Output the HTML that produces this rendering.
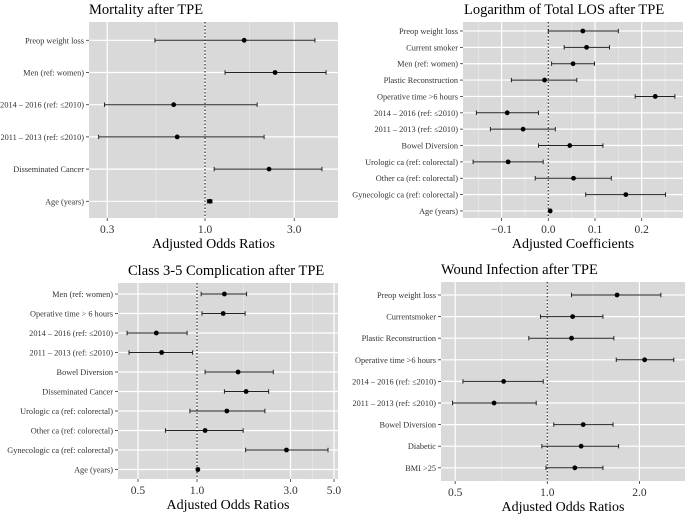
<!DOCTYPE html>
<html><head><meta charset="utf-8"><style>
html,body{margin:0;padding:0;background:#fff;}
svg{display:block;}
svg text{font-family:"Liberation Serif","DejaVu Serif",serif;}
</style></head><body>
<svg id="fig" width="685" height="515" viewBox="0 0 685 515" xmlns="http://www.w3.org/2000/svg" font-family="Liberation Serif, serif"></svg>
<script>
// Panel 1: Mortality
const mortLabels = ["Preop weight loss","Men (ref: women)","2014 \u2013 2016 (ref: \u22642010)","2011 \u2013 2013 (ref: \u22642010)","Disseminated Cancer","Age (years)"];
const mortEst = [1.62,2.37,0.68,0.71,2.2,1.06];
const mortLo = [0.54,1.28,0.29,0.27,1.12,1.03];
const mortHi = [3.87,4.44,1.90,2.07,4.22,1.09];
const mortTicks = [0.3,1.0,3.0];
const mortTickLabels = ["0.3","1.0","3.0"];
const mortMinor = [0.548,1.73];
// Panel 2: LOS
const losLabels = ["Preop weight loss","Current smoker","Men (ref: women)","Plastic Reconstruction","Operative time >6 hours","2014 \u2013 2016 (ref: \u22642010)","2011 \u2013 2013 (ref: \u22642010)","Bowel Diversion","Urologic ca (ref: colorectal)","Other ca (ref: colorectal)","Gynecologic ca (ref: colorectal)","Age (years)"];
const losEst = [0.074,0.082,0.053,-0.008,0.229,-0.088,-0.054,0.046,-0.086,0.054,0.166,0.004];
const losLo = [0.0,0.034,0.007,-0.079,0.186,-0.154,-0.124,-0.021,-0.161,-0.028,0.080,0.002];
const losHi = [0.15,0.131,0.099,0.061,0.271,-0.021,0.015,0.117,-0.011,0.135,0.251,0.006];
const losTicks = [-0.1,0.0,0.1,0.2];
const losTickLabels = ["\u22120.1","0.0","0.1","0.2"];
const losMinor = [-0.15,-0.05,0.05,0.15,0.25];
// Panel 3: Class 3-5
const compLabels = ["Men (ref: women)","Operative time > 6 hours","2014 \u2013 2016 (ref: \u22642010)","2011 \u2013 2013 (ref: \u22642010)","Bowel Diversion","Disseminated Cancer","Urologic ca (ref: colorectal)","Other ca (ref: colorectal)","Gynecologic ca (ref: colorectal)","Age (years)"];
const compEst = [1.38,1.36,0.62,0.66,1.62,1.78,1.42,1.10,2.86,1.01];
const compLo = [1.05,1.06,0.44,0.45,1.10,1.38,0.92,0.69,1.77,1.0];
const compHi = [1.79,1.76,0.89,0.95,2.45,2.32,2.22,1.72,4.66,1.02];
const compTicks = [0.5,1.0,3.0,5.0];
const compTickLabels = ["0.5","1.0","3.0","5.0"];
const compMinor = [0.707,1.73,3.87];
// Panel 4: Wound
const woundLabels = ["Preop weight loss","Currentsmoker","Plastic Reconstruction","Operative time >6 hours","2014 \u2013 2016 (ref: \u22642010)","2011 \u2013 2013 (ref: \u22642010)","Bowel Diversion","Diabetic","BMI >25"];
const woundEst = [1.69,1.21,1.20,2.08,0.72,0.67,1.31,1.29,1.23];
const woundLo = [1.20,0.95,0.87,1.68,0.53,0.49,1.05,0.96,0.99];
const woundHi = [2.35,1.52,1.65,2.59,0.97,0.92,1.64,1.71,1.52];
const woundTicks = [0.5,1.0,2.0];
const woundTickLabels = ["0.5","1.0","2.0"];
const woundMinor = [0.707,1.41];

const NS="http://www.w3.org/2000/svg";
const svg=document.getElementById('fig');
const FF='"Liberation Serif", "DejaVu Serif", serif';
function mk(tag,attrs,parent){const e=document.createElementNS(NS,tag);for(const k in attrs)e.setAttribute(k,attrs[k]);if(tag==='text')e.style.fontFamily=FF;(parent||svg).appendChild(e);return e;}

function panel(o){
  const g=mk('g',{});
  
  
  const sx=v=>o.log? o.x0+Math.log10(v)*o.ppd : o.x0+v*o.ppd;
  const n=o.labels.length;
  const sy=i=>o.yTop+i*o.step;
  const bg=mk('rect',{x:o.L,y:o.T,width:o.R-o.L,height:o.B-o.T,fill:'#d9d9d9'},g);
  
  
  o.minor.forEach(v=>{const l=mk('line',{x1:sx(v),x2:sx(v),y1:o.T,y2:o.B,stroke:'#ececec','stroke-width':0.6},g);
    
    });
  o.ticks.forEach((v,i)=>{const l=mk('line',{x1:sx(v),x2:sx(v),y1:o.T,y2:o.B,stroke:'#fff','stroke-width':1.2},g);
    
    
    const tk=mk('line',{x1:sx(v),x2:sx(v),y1:o.B,y2:o.B+3,stroke:'#333','stroke-width':0.8},g);
    
    
    const t=mk('text',{x:sx(v),y:o.B+15,'text-anchor':'middle','font-size':11.5,fill:'#333'},g);
    t.textContent=o.tickLabels[i];
    
    });
  for(let i=0;i<n;i++){const y=sy(i);
    const l=mk('line',{x1:o.L,x2:o.R,y1:y,y2:y,stroke:'#fff','stroke-width':1.2},g);
    
    }
  const ref=mk('line',{x1:sx(o.refv),x2:sx(o.refv),y1:o.T,y2:o.B,stroke:'#333','stroke-width':1.2,'stroke-dasharray':'1.5,2'},g);
  
  
  for(let i=0;i<n;i++){const y=sy(i);
    const tk=mk('line',{x1:o.L-3,x2:o.L,y1:y,y2:y,stroke:'#333','stroke-width':0.8},g);
    
    
    const t=mk('text',{x:o.L-5,y:y+3,'text-anchor':'end','font-size':8.3,fill:'#333'},g);
    t.textContent=o.labels[i];
    
    
    const a=sx(o.lo[i]),b=sx(o.hi[i]);
    const eb=mk('path',{d:`M${a},${y}H${b}M${a},${y-2.2}V${y+2.2}M${b},${y-2.2}V${y+2.2}`,stroke:'#222','stroke-width':1,fill:'none'},g);
    
    
    const p=mk('circle',{cx:sx(o.est[i]),cy:y,r:2.4,fill:'#000'},g);
    
    }
  const tt=mk('text',{x:o.titleX,y:o.T-8,'font-size':14.5,fill:'#000'},g);
  tt.textContent=o.title;
  
  
  const at=mk('text',{x:(o.L+o.R)/2,y:o.B+30,'text-anchor':'middle','font-size':14,fill:'#000'},g);
  at.textContent=o.xTitle;
  
  
}

panel({name:'mortality-panel',title:'Mortality after TPE',xTitle:'Adjusted Odds Ratios',log:true,L:89,R:338,T:22,B:218,x0:205,ppd:187,yTop:40.3,step:32.2,titleX:89,refv:1,
  labels:mortLabels,est:mortEst,lo:mortLo,hi:mortHi,ticks:mortTicks,tickLabels:mortTickLabels,minor:mortMinor});
panel({name:'los-panel',title:'Logarithm of Total LOS after TPE',xTitle:'Adjusted Coefficients',log:false,L:463,R:683,T:22,B:218,x0:548.3,ppd:467,yTop:31,step:16.36,titleX:464,refv:0,
  labels:losLabels,est:losEst,lo:losLo,hi:losHi,ticks:losTicks,tickLabels:losTickLabels,minor:losMinor});
panel({name:'complication-panel',title:'Class 3-5 Complication after TPE',xTitle:'Adjusted Odds Ratios',log:true,L:118,R:338,T:283,B:479,x0:197,ppd:196,yTop:294,step:19.5,titleX:128,refv:1,
  labels:compLabels,est:compEst,lo:compLo,hi:compHi,ticks:compTicks,tickLabels:compTickLabels,minor:compMinor});
panel({name:'wound-infection-panel',title:'Wound Infection after TPE',xTitle:'Adjusted Odds Ratios',log:true,L:441,R:685,T:282,B:481,x0:547.3,ppd:306,yTop:295,step:21.6,titleX:441,refv:1,
  labels:woundLabels,est:woundEst,lo:woundLo,hi:woundHi,ticks:woundTicks,tickLabels:woundTickLabels,minor:woundMinor});
</script>
</body></html>
